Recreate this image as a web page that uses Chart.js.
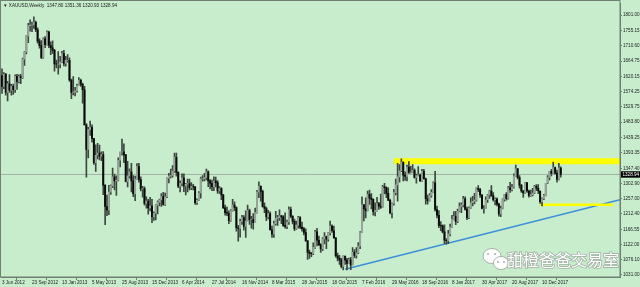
<!DOCTYPE html>
<html>
<head>
<meta charset="utf-8">
<script src="https://cdn.jsdelivr.net/npm/chart.js@4.4.1/dist/chart.umd.min.js"></script>
<style>
  html, body { margin: 0; padding: 0; background: #c7edcc; }
  #wrap { width: 640px; height: 287px; position: relative; }
</style>
</head>
<body>
<div id="wrap"><canvas id="myChart"></canvas></div>
<script>
// XAUUSD weekly, week 0 = 3 Jun 2012, last week = 18 Feb 2018
const opens = [
  1622,1590,1626,1572,1598,1579,1590,1580,1620,1605,
  1620,1616,1671,1692,1740,1770,1772,1772,1780,1758,
  1724,1711,1676,1731,1714,1751,1712,1704,1697,1657,
  1656,1656,1662,1687,1658,1667,1667,1609,1572,1573,
  1577,1592,1608,1596,1580,1476,1403,1462,1469,1435,
  1364,1386,1392,1383,1388,1297,1234,1223,1277,1295,
  1322,1310,1312,1371,1395,1396,1387,1308,1325,1337,
  1310,1272,1315,1352,1314,1286,1287,1243,1250,1230,
  1235,1203,1214,1238,1247,1254,1264,1240,1263,1318,
  1324,1326,1339,1380,1335,1294,1303,1318,1294,1300,
  1302,1290,1293,1292,1245,1252,1274,1316,1316,1320,
  1337,1310,1303,1293,1309,1305,1280,1287,1268,1230,
  1216,1214,1192,1222,1238,1231,1171,1169,1190,1201,
  1175,1191,1222,1195,1195,1186,1216,1277,1294,1279,
  1234,1228,1203,1213,1165,1152,1183,1199,1201,1206,
  1203,1178,1175,1188,1225,1205,1190,1168,1179,1201,
  1173,1168,1157,1132,1098,1095,1094,1113,1159,1134,
  1121,1108,1138,1145,1137,1156,1176,1162,1141,1088,
  1081,1076,1056,1086,1075,1065,1076,1061,1098,1089,
  1097,1117,1157,1239,1227,1222,1270,1259,1255,1219,
  1222,1243,1235,1232,1292,1290,1273,1252,1216,1243,
  1275,1298,1322,1340,1366,1327,1323,1351,1335,1336,
  1341,1320,1326,1328,1310,1338,1316,1257,1251,1267,
  1276,1304,1225,1208,1178,1177,1159,1134,1133,1152,
  1173,1196,1205,1190,1220,1234,1239,1257,1226,1201,
  1229,1245,1249,1253,1287,1284,1268,1228,1228,1254,
  1268,1280,1266,1254,1256,1241,1212,1228,1255,1269,
  1258,1289,1284,1291,1325,1346,1320,1297,1280,1274,
  1304,1280,1266,1269,1274,1294,1288,1280,1248,1257,
  1266,1303,1320,1338,1332,1349,1333,1315,1347.80
];
const highs = [
  1642,1631,1629,1605,1625,1596,1597,1624,1626,1624,
  1626,1674,1693,1741,1777,1787,1781,1796,1784,1764,
  1731,1726,1734,1738,1755,1754,1722,1725,1700,1668,
  1693,1679,1694,1697,1679,1684,1675,1612,1619,1587,
  1597,1616,1612,1600,1590,1480,1469,1487,1476,1436,
  1417,1421,1416,1396,1397,1299,1268,1297,1298,1348,
  1330,1325,1378,1395,1434,1420,1389,1368,1346,1362,
  1326,1324,1361,1362,1322,1294,1292,1263,1255,1261,
  1255,1218,1240,1251,1256,1272,1276,1274,1319,1332,
  1345,1355,1392,1392,1337,1310,1331,1331,1303,1315,
  1315,1305,1300,1294,1257,1278,1321,1326,1332,1345,
  1340,1314,1312,1322,1321,1311,1293,1290,1270,1238,
  1232,1221,1225,1255,1248,1233,1178,1197,1208,1207,
  1221,1238,1226,1205,1213,1229,1282,1307,1295,1283,
  1245,1232,1223,1218,1176,1191,1220,1208,1224,1208,
  1207,1215,1194,1233,1232,1207,1197,1191,1205,1204,
  1188,1172,1168,1133,1105,1098,1126,1163,1169,1146,
  1124,1142,1157,1146,1157,1191,1180,1176,1142,1096,
  1089,1080,1088,1088,1080,1081,1083,1112,1106,1112,
  1127,1160,1263,1240,1260,1280,1283,1272,1257,1245,
  1261,1246,1271,1297,1303,1292,1289,1256,1245,1285,
  1315,1362,1358,1375,1366,1337,1357,1367,1353,1358,
  1346,1330,1352,1330,1344,1344,1318,1268,1272,1284,
  1307,1338,1235,1222,1189,1180,1180,1139,1163,1182,
  1208,1219,1220,1226,1245,1245,1264,1263,1232,1233,
  1260,1264,1273,1289,1296,1288,1269,1237,1263,1270,
  1282,1296,1275,1260,1260,1244,1235,1257,1270,1275,
  1294,1306,1300,1331,1357,1347,1326,1300,1282,1306,
  1306,1283,1283,1288,1297,1299,1299,1280,1260,1270,
  1303,1326,1338,1344,1366,1351,1342,1362,1351.36
];
const lows = [
  1569,1583,1564,1547,1572,1564,1566,1572,1581,1600,
  1598,1614,1652,1686,1720,1754,1752,1762,1752,1718,
  1703,1672,1674,1705,1712,1705,1684,1688,1635,1645,
  1626,1645,1660,1651,1650,1662,1605,1554,1565,1562,
  1573,1592,1590,1540,1476,1321,1378,1445,1425,1359,
  1338,1375,1372,1370,1269,1180,1207,1210,1270,1290,
  1283,1267,1310,1351,1386,1364,1307,1292,1318,1277,
  1263,1251,1315,1306,1280,1262,1238,1229,1211,1221,
  1186,1193,1194,1212,1236,1234,1238,1237,1260,1304,
  1319,1321,1335,1324,1290,1277,1295,1278,1268,1277,
  1283,1284,1283,1240,1240,1251,1259,1309,1310,1313,
  1293,1286,1281,1281,1292,1273,1273,1254,1228,1208,
  1207,1183,1190,1220,1222,1161,1131,1143,1181,1164,
  1142,1191,1181,1170,1167,1186,1214,1260,1250,1232,
  1216,1192,1197,1164,1142,1142,1179,1178,1193,1183,
  1175,1170,1168,1181,1201,1182,1162,1166,1170,1168,
  1161,1150,1131,1077,1080,1085,1091,1110,1117,1118,
  1098,1103,1123,1109,1131,1149,1157,1140,1084,1073,
  1062,1052,1046,1062,1046,1065,1047,1061,1082,1081,
  1094,1109,1157,1191,1200,1221,1240,1227,1208,1206,
  1220,1225,1228,1232,1271,1260,1252,1212,1200,1238,
  1268,1250,1306,1337,1310,1311,1310,1332,1333,1335,
  1318,1303,1325,1308,1308,1316,1241,1241,1250,1262,
  1275,1220,1200,1171,1162,1156,1124,1122,1124,1147,
  1172,1194,1180,1186,1218,1216,1233,1223,1195,1198,
  1228,1236,1242,1250,1278,1261,1227,1214,1228,1246,
  1258,1264,1250,1239,1236,1205,1204,1227,1250,1253,
  1256,1276,1280,1288,1324,1316,1288,1276,1261,1273,
  1276,1262,1264,1265,1272,1281,1272,1243,1236,1254,
  1265,1302,1313,1325,1331,1330,1306,1313,1320.93
];
const closes = [
  1590,1626,1572,1598,1579,1590,1580,1620,1605,1620,
  1616,1671,1692,1740,1770,1772,1772,1780,1758,1724,
  1711,1676,1731,1714,1751,1712,1704,1697,1657,1656,
  1656,1662,1687,1658,1667,1667,1609,1572,1573,1577,
  1592,1608,1596,1580,1476,1403,1462,1469,1435,1364,
  1386,1392,1383,1388,1297,1234,1223,1277,1295,1322,
  1310,1312,1371,1395,1396,1387,1308,1325,1337,1310,
  1272,1315,1352,1314,1286,1287,1243,1250,1230,1235,
  1203,1214,1238,1247,1254,1264,1240,1263,1318,1324,
  1326,1339,1380,1335,1294,1303,1318,1294,1300,1302,
  1290,1293,1292,1245,1252,1274,1316,1316,1320,1337,
  1310,1303,1293,1309,1305,1280,1287,1268,1230,1216,
  1214,1192,1222,1238,1231,1171,1169,1190,1201,1175,
  1191,1222,1195,1195,1186,1216,1277,1294,1279,1234,
  1228,1203,1213,1165,1152,1183,1199,1201,1206,1203,
  1178,1175,1188,1225,1205,1190,1168,1179,1201,1173,
  1168,1157,1132,1098,1095,1094,1113,1159,1134,1121,
  1108,1138,1145,1137,1156,1176,1162,1141,1088,1081,
  1076,1056,1086,1075,1065,1076,1061,1098,1089,1097,
  1117,1157,1239,1227,1222,1270,1259,1255,1219,1222,
  1243,1235,1232,1292,1290,1273,1252,1216,1243,1275,
  1298,1322,1340,1366,1327,1323,1351,1335,1336,1341,
  1320,1326,1328,1310,1338,1316,1257,1251,1267,1276,
  1304,1225,1208,1178,1177,1159,1134,1133,1152,1173,
  1196,1205,1190,1220,1234,1239,1257,1226,1201,1229,
  1245,1249,1253,1287,1284,1268,1228,1228,1254,1268,
  1280,1266,1254,1256,1241,1212,1228,1255,1269,1258,
  1289,1284,1291,1325,1346,1320,1297,1280,1274,1304,
  1280,1266,1269,1274,1294,1288,1280,1248,1257,1266,
  1303,1320,1338,1332,1349,1333,1315,1348,1328.94
];

// date labels every 16 weeks
const xTickWeeks = [0,16,32,48,64,80,96,112,128,144,160,176,192,208,224,240,256,272,288];
const xTickLabels = ["3 Jun 2012","23 Sep 2012","13 Jan 2013","5 May 2013","25 Aug 2013",
  "15 Dec 2013","6 Apr 2014","27 Jul 2014","16 Nov 2014","8 Mar 2015","28 Jun 2015",
  "18 Oct 2015","7 Feb 2016","29 May 2016","18 Sep 2016","8 Jan 2017","30 Apr 2017",
  "20 Aug 2017","10 Dec 2017"];
const yTickValues = [1801.00,1755.15,1710.60,1664.75,1620.15,1574.25,1529.75,1483.80,1439.25,
  1393.35,1347.40,1302.90,1257.00,1212.40,1166.55,1122.00,1076.10,1031.00];

// drawn objects: levels and trend line
const lastPrice = 1328.94;
const resistance = { from: 209, to: 330, price: 1368 };
const support = { from: 287, to: 326, price: 1239 };
const trendLine = [ { week: 183, price: 1048 }, { week: 329.6, price: 1254 } ];

const title = "\u25BC XAUUSD,Weekly  1347.80 1351.36 1320.93 1328.94";
const watermark = "甜橙爸爸交易室";

const BG = "#c7edcc";
const X_MIN = -0.53, X_MAX = 329.6;

const wickData = closes.map((c, i) => ({ x: i, y: [lows[i], highs[i]] }));
const bodyData = closes.map((c, i) => ({ x: i, y: [opens[i], c] }));

const overlay = {
  id: "overlay",
  beforeDraw(chart) {
    const c = chart.ctx;
    c.save();
    c.fillStyle = BG;
    c.fillRect(0, 0, chart.width, chart.height);
    c.restore();
  },
  afterDraw(chart) {
    const c = chart.ctx;
    const a = chart.chartArea;
    const y = chart.scales.y;
    c.save();
    // frame
    c.strokeStyle = "#6f7f72";
    c.lineWidth = 1;
    c.strokeRect(0.5, 0.5, a.right - 0.5, a.bottom - 0.5);

    // title
    c.font = "4.6px 'Liberation Sans'";
    c.fillStyle = "#1a1a1a";
    c.textBaseline = "middle";
    c.textAlign = "left";
    c.fillText(title, 3, 5.5);

    // last price box
    const py = y.getPixelForValue(lastPrice);
    c.fillStyle = "#000";
    c.fillRect(a.right + 1, py - 3.2, 19, 6.4);
    c.fillStyle = "#fff";
    c.fillText(lastPrice.toFixed(2), a.right + 2.5, py + 0.3);

    // wechat logo
    c.lineWidth = 1;
    c.strokeStyle = "#a7b2a9";
    c.fillStyle = "#ffffff";
    c.beginPath();
    c.ellipse(492, 256, 9, 7.5, 0, 0, Math.PI * 2);
    c.fill(); c.stroke();
    c.beginPath();
    c.ellipse(501, 263, 7.5, 6.5, 0, 0, Math.PI * 2);
    c.fill(); c.stroke();
    c.fillStyle = "#a7b2a9";
    [[488, 254], [495, 254], [498, 262], [504, 262]].forEach(p => {
      c.beginPath(); c.arc(p[0], p[1], 1, 0, Math.PI * 2); c.fill();
    });

    // watermark text
    c.font = "16px 'Noto Sans CJK SC'";
    c.textBaseline = "middle";
    c.lineWidth = 1.6;
    c.strokeStyle = "#a4b2a6";
    c.strokeText(watermark, 507, 260);
    c.fillStyle = "#ffffff";
    c.fillText(watermark, 507, 260);
    c.restore();
  }
};

const ctx = document.getElementById("myChart");
const myChart = new Chart(ctx, {
  type: "bar",
  data: {
    datasets: [
      {
        type: "line",
        data: [{ x: X_MIN, y: lastPrice }, { x: X_MAX, y: lastPrice }],
        borderColor: "#a3b2a6",
        borderWidth: 1,
        pointRadius: 0,
        order: 5,
      },
      {
        type: "line",
        data: [{ x: resistance.from, y: resistance.price }, { x: resistance.to, y: resistance.price }],
        borderColor: "#ffff00",
        borderWidth: 6,
        pointRadius: 0,
        order: 4,
      },
      {
        type: "line",
        data: [{ x: support.from, y: support.price }, { x: support.to, y: support.price }],
        borderColor: "#ffff00",
        borderWidth: 2.5,
        pointRadius: 0,
        order: 4,
      },
      {
        type: "line",
        data: trendLine.map(p => ({ x: p.week, y: p.price })),
        borderColor: "#3b8fdc",
        borderWidth: 1.4,
        pointRadius: 0,
        order: 4,
      },
      {
        data: wickData,
        backgroundColor: "#3d473f",
        barThickness: 1,
        grouped: false,
        order: 2,
      },
      {
        data: bodyData,
        backgroundColor: bodyData.map((d, i) => closes[i] >= opens[i] ? "#98a69a" : "#0a0a0a"),
        barThickness: 1.3,
        grouped: false,
        order: 1,
      },
    ],
  },
  options: {
    responsive: true,
    maintainAspectRatio: false,
    animation: false,
    layout: { padding: { left: 1, top: 1, right: 0, bottom: 0 } },
    plugins: { legend: { display: false }, tooltip: { enabled: false }, title: { display: false } },
    scales: {
      x: {
        type: "linear",
        min: X_MIN,
        max: X_MAX,
        offset: false,
        afterBuildTicks(scale) { scale.ticks = xTickWeeks.map(v => ({ value: v })); },
        afterFit(scale) { scale.height = 10; },
        ticks: {
          autoSkip: false,
          maxRotation: 0,
          align: "start",
          padding: 0,
          color: "#222",
          font: { family: "Liberation Sans", size: 4.6 },
          callback: (v, i) => xTickLabels[i],
        },
        grid: { drawOnChartArea: false, tickLength: 3, color: "#6f7f72" },
        border: { color: "#6f7f72" },
      },
      y: {
        type: "linear",
        position: "right",
        min: 1025,
        max: 1835,
        afterBuildTicks(scale) { scale.ticks = yTickValues.map(v => ({ value: v })); },
        afterFit(scale) { scale.width = 20; },
        ticks: {
          autoSkip: false,
          padding: 1,
          color: "#222",
          font: { family: "Liberation Sans", size: 4.6 },
          callback: v => Number(v).toFixed(2),
        },
        grid: { drawOnChartArea: false, tickLength: 2, color: "#6f7f72" },
        border: { color: "#6f7f72" },
      },
    },
  },
  plugins: [overlay],
});
</script>
</body>
</html>
